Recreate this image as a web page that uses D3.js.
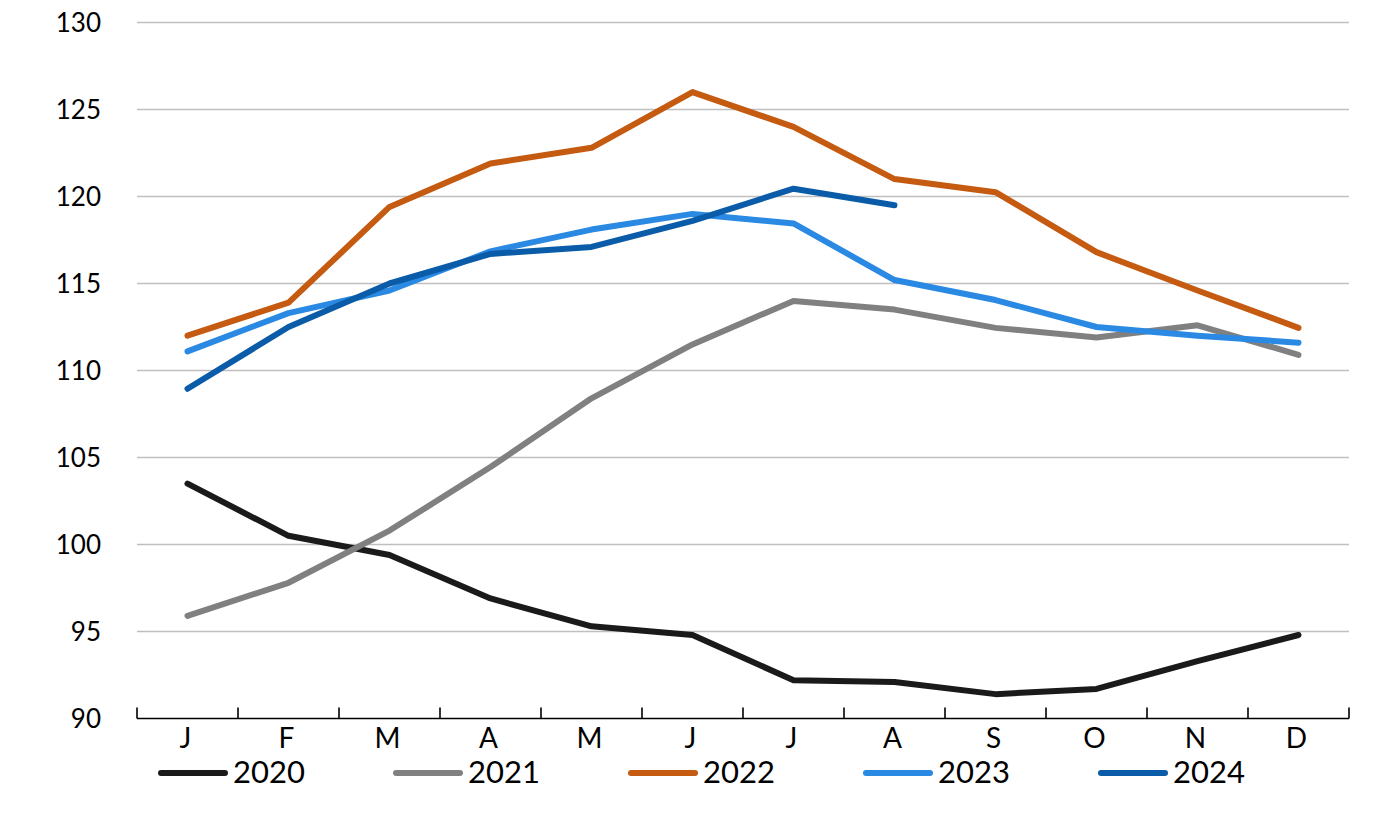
<!DOCTYPE html>
<html>
<head>
<meta charset="utf-8">
<script src="https://cdn.jsdelivr.net/npm/d3@7"></script>
<style>
  html, body { margin: 0; padding: 0; background: #fff; }
  svg { display: block; }
  text { font-family: Lato, "Open Sans", sans-serif; fill: #000; }
</style>
</head>
<body>
<svg id="chart" width="1400" height="828"></svg>
<script>
const months = ["J","F","M","A","M","J","J","A","S","O","N","D"];
const yTicks = [90, 95, 100, 105, 110, 115, 120, 125, 130];
const years = ["2020","2021","2022","2023","2024"];
const colors = ["#1a1a1a","#808080","#c55a11","#2a89e3","#0b5ca8"];

const s2020 = [103.5, 100.5, 99.4, 96.9, 95.3, 94.8, 92.2, 92.1, 91.4, 91.7, 93.3, 94.8];
const s2021 = [95.9, 97.8, 100.8, 104.45, 108.4, 111.5, 114.0, 113.5, 112.45, 111.9, 112.6, 110.9];
const s2022 = [112.0, 113.9, 119.4, 121.9, 122.8, 126.0, 124.0, 121.0, 120.25, 116.8, 114.6, 112.45];
const s2023 = [111.1, 113.3, 114.6, 116.85, 118.1, 119.0, 118.45, 115.2, 114.05, 112.5, 112.0, 111.6];
const s2024 = [108.95, 112.5, 115.0, 116.7, 117.1, 118.6, 120.45, 119.5];
const series = [s2020, s2021, s2022, s2023, s2024];

const pLeft = 137, pRight = 1349, pTop = 22.5, pBottom = 718.5;
const svg = d3.select("#chart");

const x = d3.scaleBand().domain(d3.range(months.length)).range([pLeft, pRight]).padding(0);
const y = d3.scaleLinear().domain([90, 130]).range([pBottom, pTop]);

// gridlines
svg.append("g").selectAll("line").data(yTicks.filter(t => t > 90)).join("line")
  .attr("x1", pLeft).attr("x2", pRight)
  .attr("y1", d => y(d)).attr("y2", d => y(d))
  .attr("stroke", "#bfbfbf").attr("stroke-width", 1.6);

// y labels
svg.append("g").selectAll("text").data(yTicks).join("text")
  .attr("x", 101).attr("y", d => y(d)).attr("dy", "0.36em")
  .attr("text-anchor", "end").attr("font-size", 26)
  .text(d => d);

// x axis line + ticks (ticks point up)
const ax = svg.append("g");
ax.append("line").attr("x1", pLeft).attr("x2", pRight)
  .attr("y1", pBottom).attr("y2", pBottom)
  .attr("stroke", "#000").attr("stroke-width", 1.6);
const bounds = d3.range(months.length + 1).map(i => i < months.length ? x(i) : x(months.length - 1) + x.bandwidth());
ax.selectAll("line.tk").data(bounds).join("line").attr("class", "tk")
  .attr("x1", d => d).attr("x2", d => d)
  .attr("y1", pBottom - 11).attr("y2", pBottom)
  .attr("stroke", "#000").attr("stroke-width", 1.6);
ax.selectAll("text").data(months).join("text")
  .attr("x", (d, i) => x(i) + x.bandwidth() / 2 - 2)
  .attr("y", 748)
  .attr("text-anchor", "middle").attr("font-size", 28)
  .text(d => d);

// lines
const line = d3.line().x((d, i) => x(i) + x.bandwidth() / 2).y(d => y(d));
svg.append("g").selectAll("path").data(series).join("path")
  .attr("d", d => line(d))
  .attr("fill", "none")
  .attr("stroke", (d, i) => colors[i])
  .attr("stroke-width", 6)
  .attr("stroke-linejoin", "round")
  .attr("stroke-linecap", "round");

// legend
const lg = svg.append("g").selectAll("g").data(years).join("g")
  .attr("transform", (d, i) => `translate(${158 + i * 235}, 773)`);
lg.append("line").attr("x1", 3).attr("x2", 67).attr("y1", 0).attr("y2", 0)
  .attr("stroke", (d, i) => colors[i]).attr("stroke-width", 6).attr("stroke-linecap", "round");
lg.append("text").attr("x", 75).attr("y", 10).attr("font-size", 31).text(d => d);
</script>
</body>
</html>
